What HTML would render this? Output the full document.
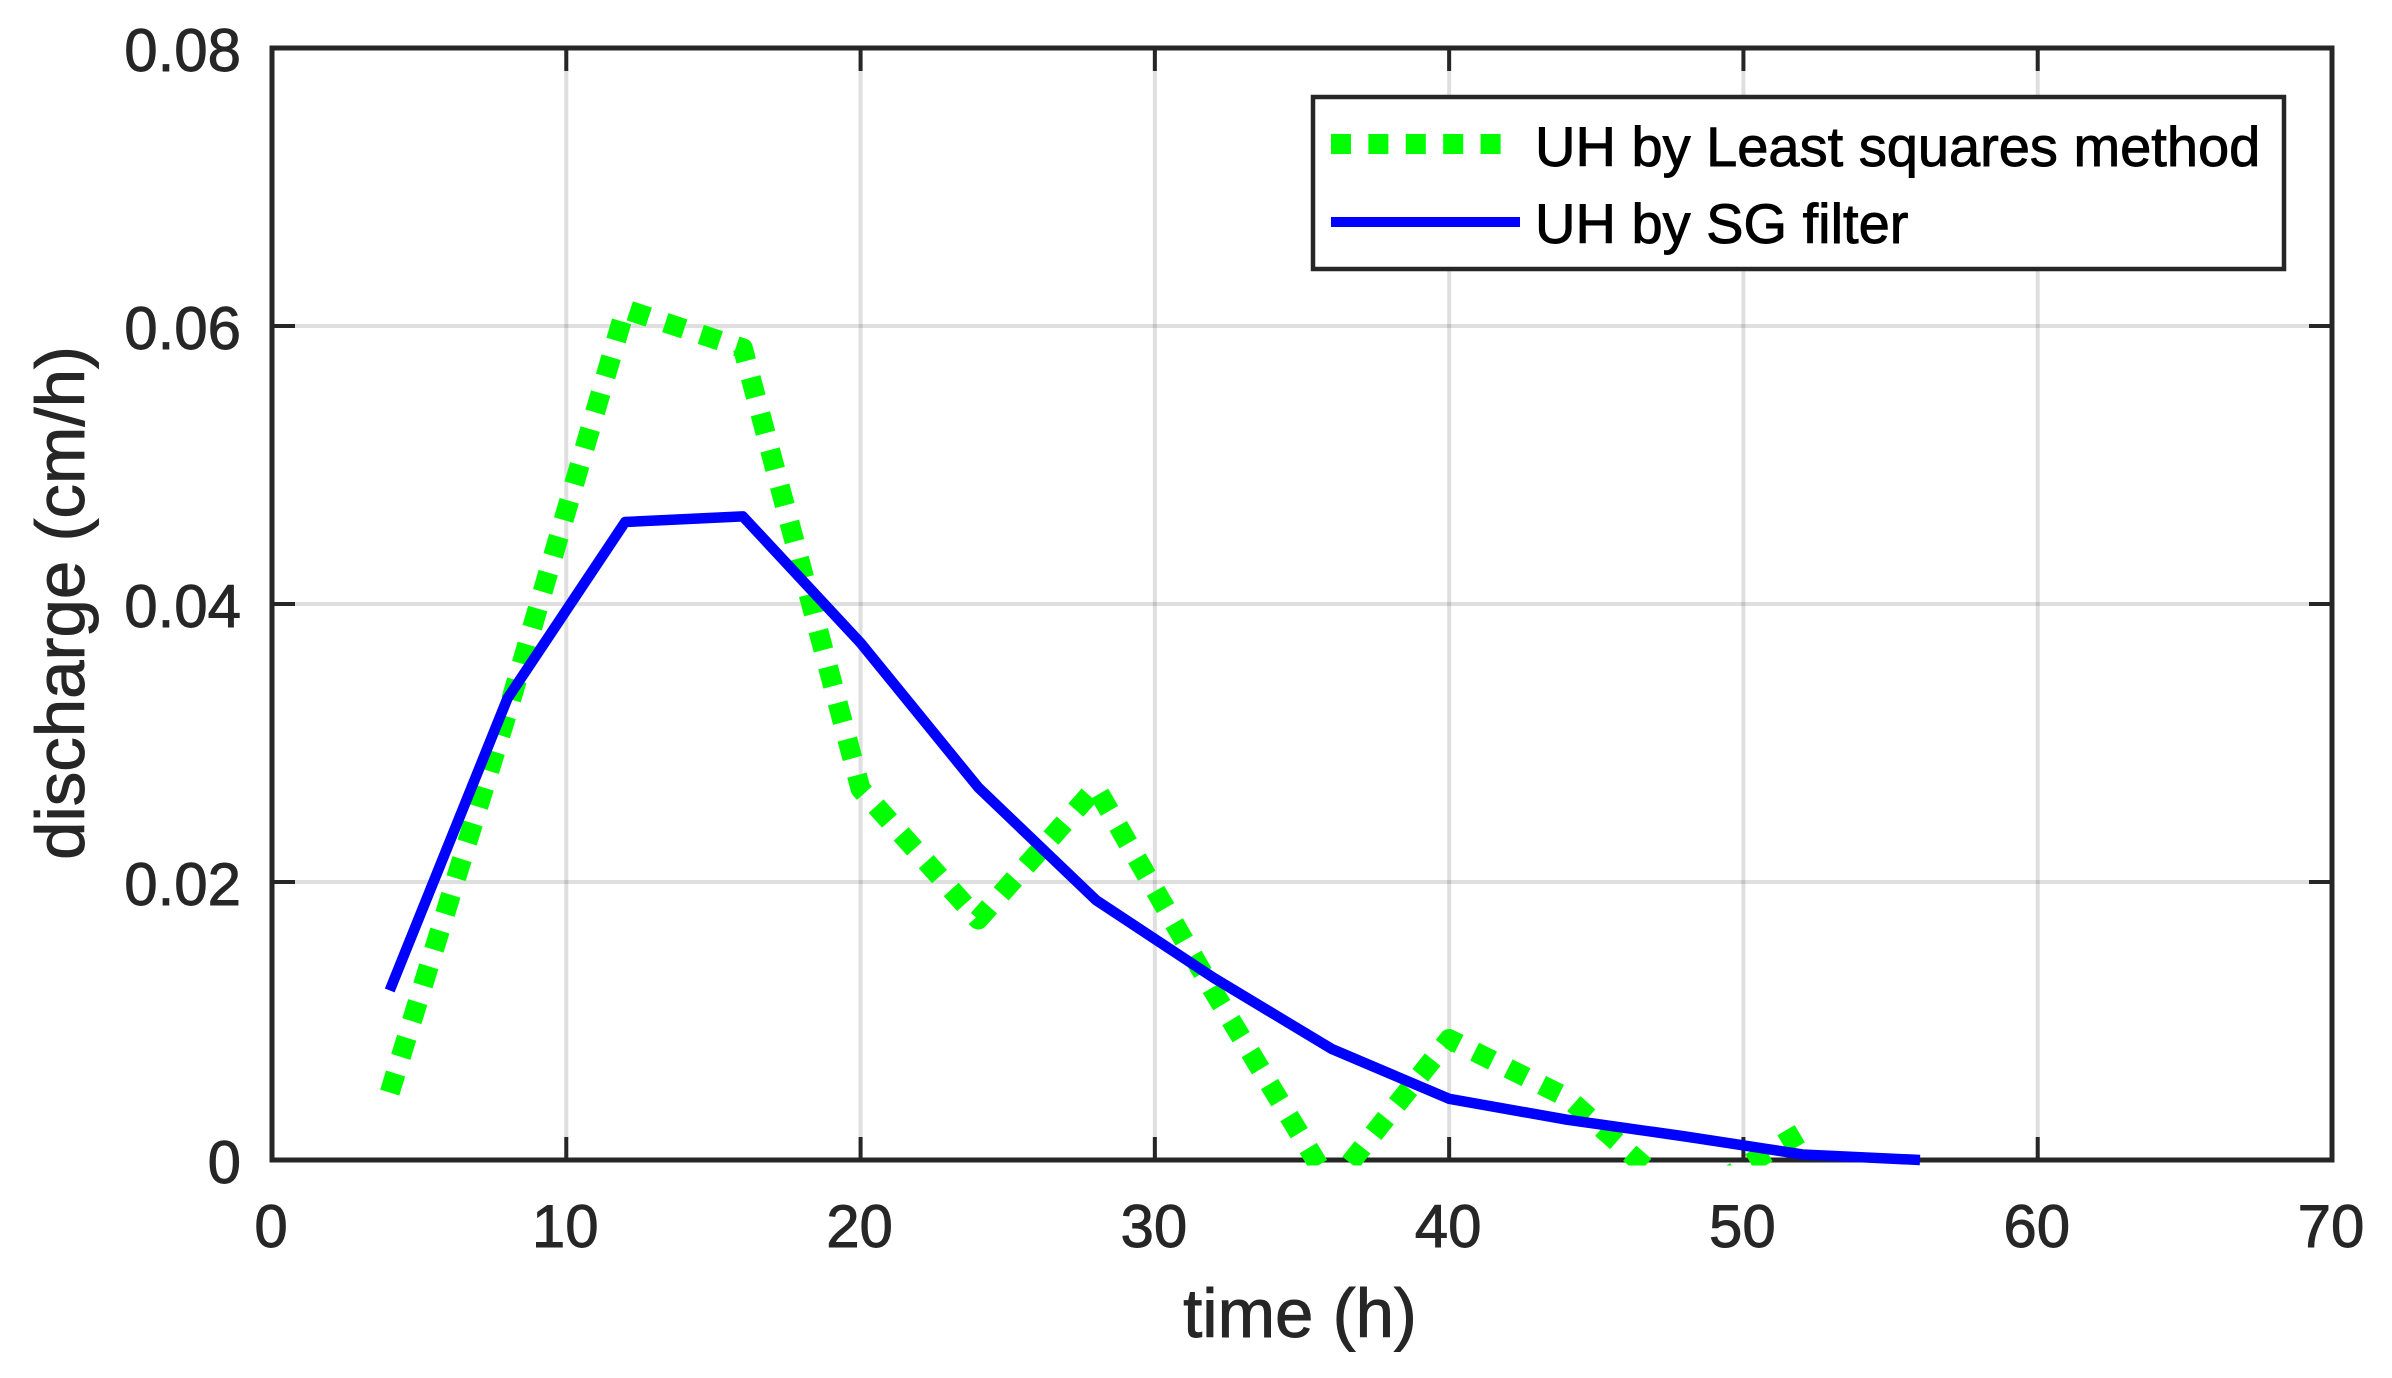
<!DOCTYPE html>
<html lang="en">
<head>
<meta charset="utf-8">
<title>Unit hydrograph comparison</title>
<style>
html,body{margin:0;padding:0;background:#fff;}
svg{display:block;}
text{font-family:"Liberation Sans",Arial,sans-serif;fill:#262626;stroke:#262626;stroke-width:0.9px;}
</style>
</head>
<body>
<svg id="chart" xmlns="http://www.w3.org/2000/svg" width="2392" height="1378" viewBox="0 0 2392 1378">
  <defs><clipPath id="plot-clip"><rect x="272" y="48" width="2060" height="1117.5"/></clipPath></defs>
  <rect x="0" y="0" width="2392" height="1378" fill="#ffffff"/>
  <g id="grid"></g>
  <g id="axes"></g>
  <g id="series" clip-path="url(#plot-clip)"></g>
  <text x="1300" y="1337" font-size="69" text-anchor="middle">time (h)</text>
  <text transform="translate(84 603) rotate(-90)" font-size="69" text-anchor="middle">discharge (cm/h)</text>
  <g>
    <rect x="1313" y="97" width="971" height="172" fill="#ffffff" stroke="#262626" stroke-width="4.5"/>
    <line x1="1331" y1="144" x2="1501" y2="144" stroke="#00ff00" stroke-width="20" stroke-dasharray="20 17.4"/>
    <text x="1535" y="166" font-size="56" style="fill:#000;stroke:#000">UH by Least squares method</text>
    <line x1="1331" y1="222" x2="1520" y2="222" stroke="#0000ff" stroke-width="10"/>
    <text x="1535" y="243" font-size="56" style="fill:#000;stroke:#000">UH by SG filter</text>
  </g>
</svg>
<script>
const timeHours = [4, 8, 12, 16, 20, 24, 28, 32, 36, 40, 44, 48, 52];
const leastSquaresValues = [0.00485, 0.0322, 0.0612, 0.0584, 0.0267, 0.0173, 0.0268, 0.0121, -0.0019, 0.0087, 0.0045, -0.003, 0.002];
const sgTimeHours = [4, 8, 12, 16, 20, 24, 28, 32, 36, 40, 44, 48, 52, 56];
const sgFilterValues = [0.0122, 0.0332, 0.0459, 0.0463, 0.0372, 0.0268, 0.0187, 0.0131, 0.008, 0.0044, 0.0029, 0.0017, 0.0004, 0];
const xTickValues = [0, 10, 20, 30, 40, 50, 60, 70];
const yTickValues = [0, 0.02, 0.04, 0.06, 0.08];
const yTickLabels = ['0', '0.02', '0.04', '0.06', '0.08'];

const SVG_NS = 'http://www.w3.org/2000/svg';
const X_MIN = 0, X_MAX = 70, Y_MIN = 0, Y_MAX = 0.08;
const LEFT = 272, RIGHT = 2332, TOP = 48, BOTTOM = 1160;
function xScale(v) { return LEFT + (v - X_MIN) / (X_MAX - X_MIN) * (RIGHT - LEFT); }
function yScale(v) { return BOTTOM - (v - Y_MIN) / (Y_MAX - Y_MIN) * (BOTTOM - TOP); }
function make(tag, attrs, parent) {
  const el = document.createElementNS(SVG_NS, tag);
  for (const k in attrs) el.setAttribute(k, attrs[k]);
  parent.appendChild(el);
  return el;
}
const gridG = document.getElementById('grid');
const axesG = document.getElementById('axes');
const seriesG = document.getElementById('series');

xTickValues.forEach(function (v) {
  if (v === X_MIN || v === X_MAX) return;
  const g = make('line', { x1: xScale(v), x2: xScale(v), y1: TOP, y2: BOTTOM, stroke: '#262626', 'stroke-opacity': 0.15, 'stroke-width': 4 }, gridG);
  
  
});
yTickValues.forEach(function (v) {
  if (v === Y_MIN || v === Y_MAX) return;
  const g = make('line', { x1: LEFT, x2: RIGHT, y1: yScale(v), y2: yScale(v), stroke: '#262626', 'stroke-opacity': 0.15, 'stroke-width': 4 }, gridG);
  
  
});

const frame = make('rect', { x: LEFT, y: TOP, width: RIGHT - LEFT, height: BOTTOM - TOP, fill: 'none', stroke: '#262626', 'stroke-width': 5 }, axesG);



xTickValues.forEach(function (v) {
  const x = xScale(v);
  if (v !== X_MIN && v !== X_MAX) {
    [[BOTTOM, BOTTOM - 23], [TOP, TOP + 23]].forEach(function (p) {
      const t = make('line', { x1: x, x2: x, y1: p[0], y2: p[1], stroke: '#262626', 'stroke-width': 4 }, axesG);
      
      
    });
  }
  const label = make('text', { x: x - 1, y: 1247, 'font-size': 60, 'text-anchor': 'middle' }, axesG);
  label.textContent = String(v);
  
  
});
yTickValues.forEach(function (v, i) {
  const y = yScale(v);
  if (v !== Y_MIN && v !== Y_MAX) {
    [[LEFT, LEFT + 23], [RIGHT, RIGHT - 23]].forEach(function (p) {
      const t = make('line', { x1: p[0], x2: p[1], y1: y, y2: y, stroke: '#262626', 'stroke-width': 4 }, axesG);
      
      
    });
  }
  const label = make('text', { x: 241, y: y + 23, 'font-size': 60, 'text-anchor': 'end' }, axesG);
  label.textContent = yTickLabels[i];
  
  
});

function toPoints(xs, ys) {
  return xs.map(function (x, i) { return xScale(x) + ',' + yScale(ys[i]); }).join(' ');
}
const greenLine = make('polyline', { points: toPoints(timeHours, leastSquaresValues), fill: 'none', stroke: '#00ff00', 'stroke-width': 20, 'stroke-dasharray': '20 17.4', 'stroke-linejoin': 'round' }, seriesG);


const blueLine = make('polyline', { points: toPoints(sgTimeHours, sgFilterValues), fill: 'none', stroke: '#0000ff', 'stroke-width': 10.5, 'stroke-linejoin': 'round' }, seriesG);


</script>
</body>
</html>
